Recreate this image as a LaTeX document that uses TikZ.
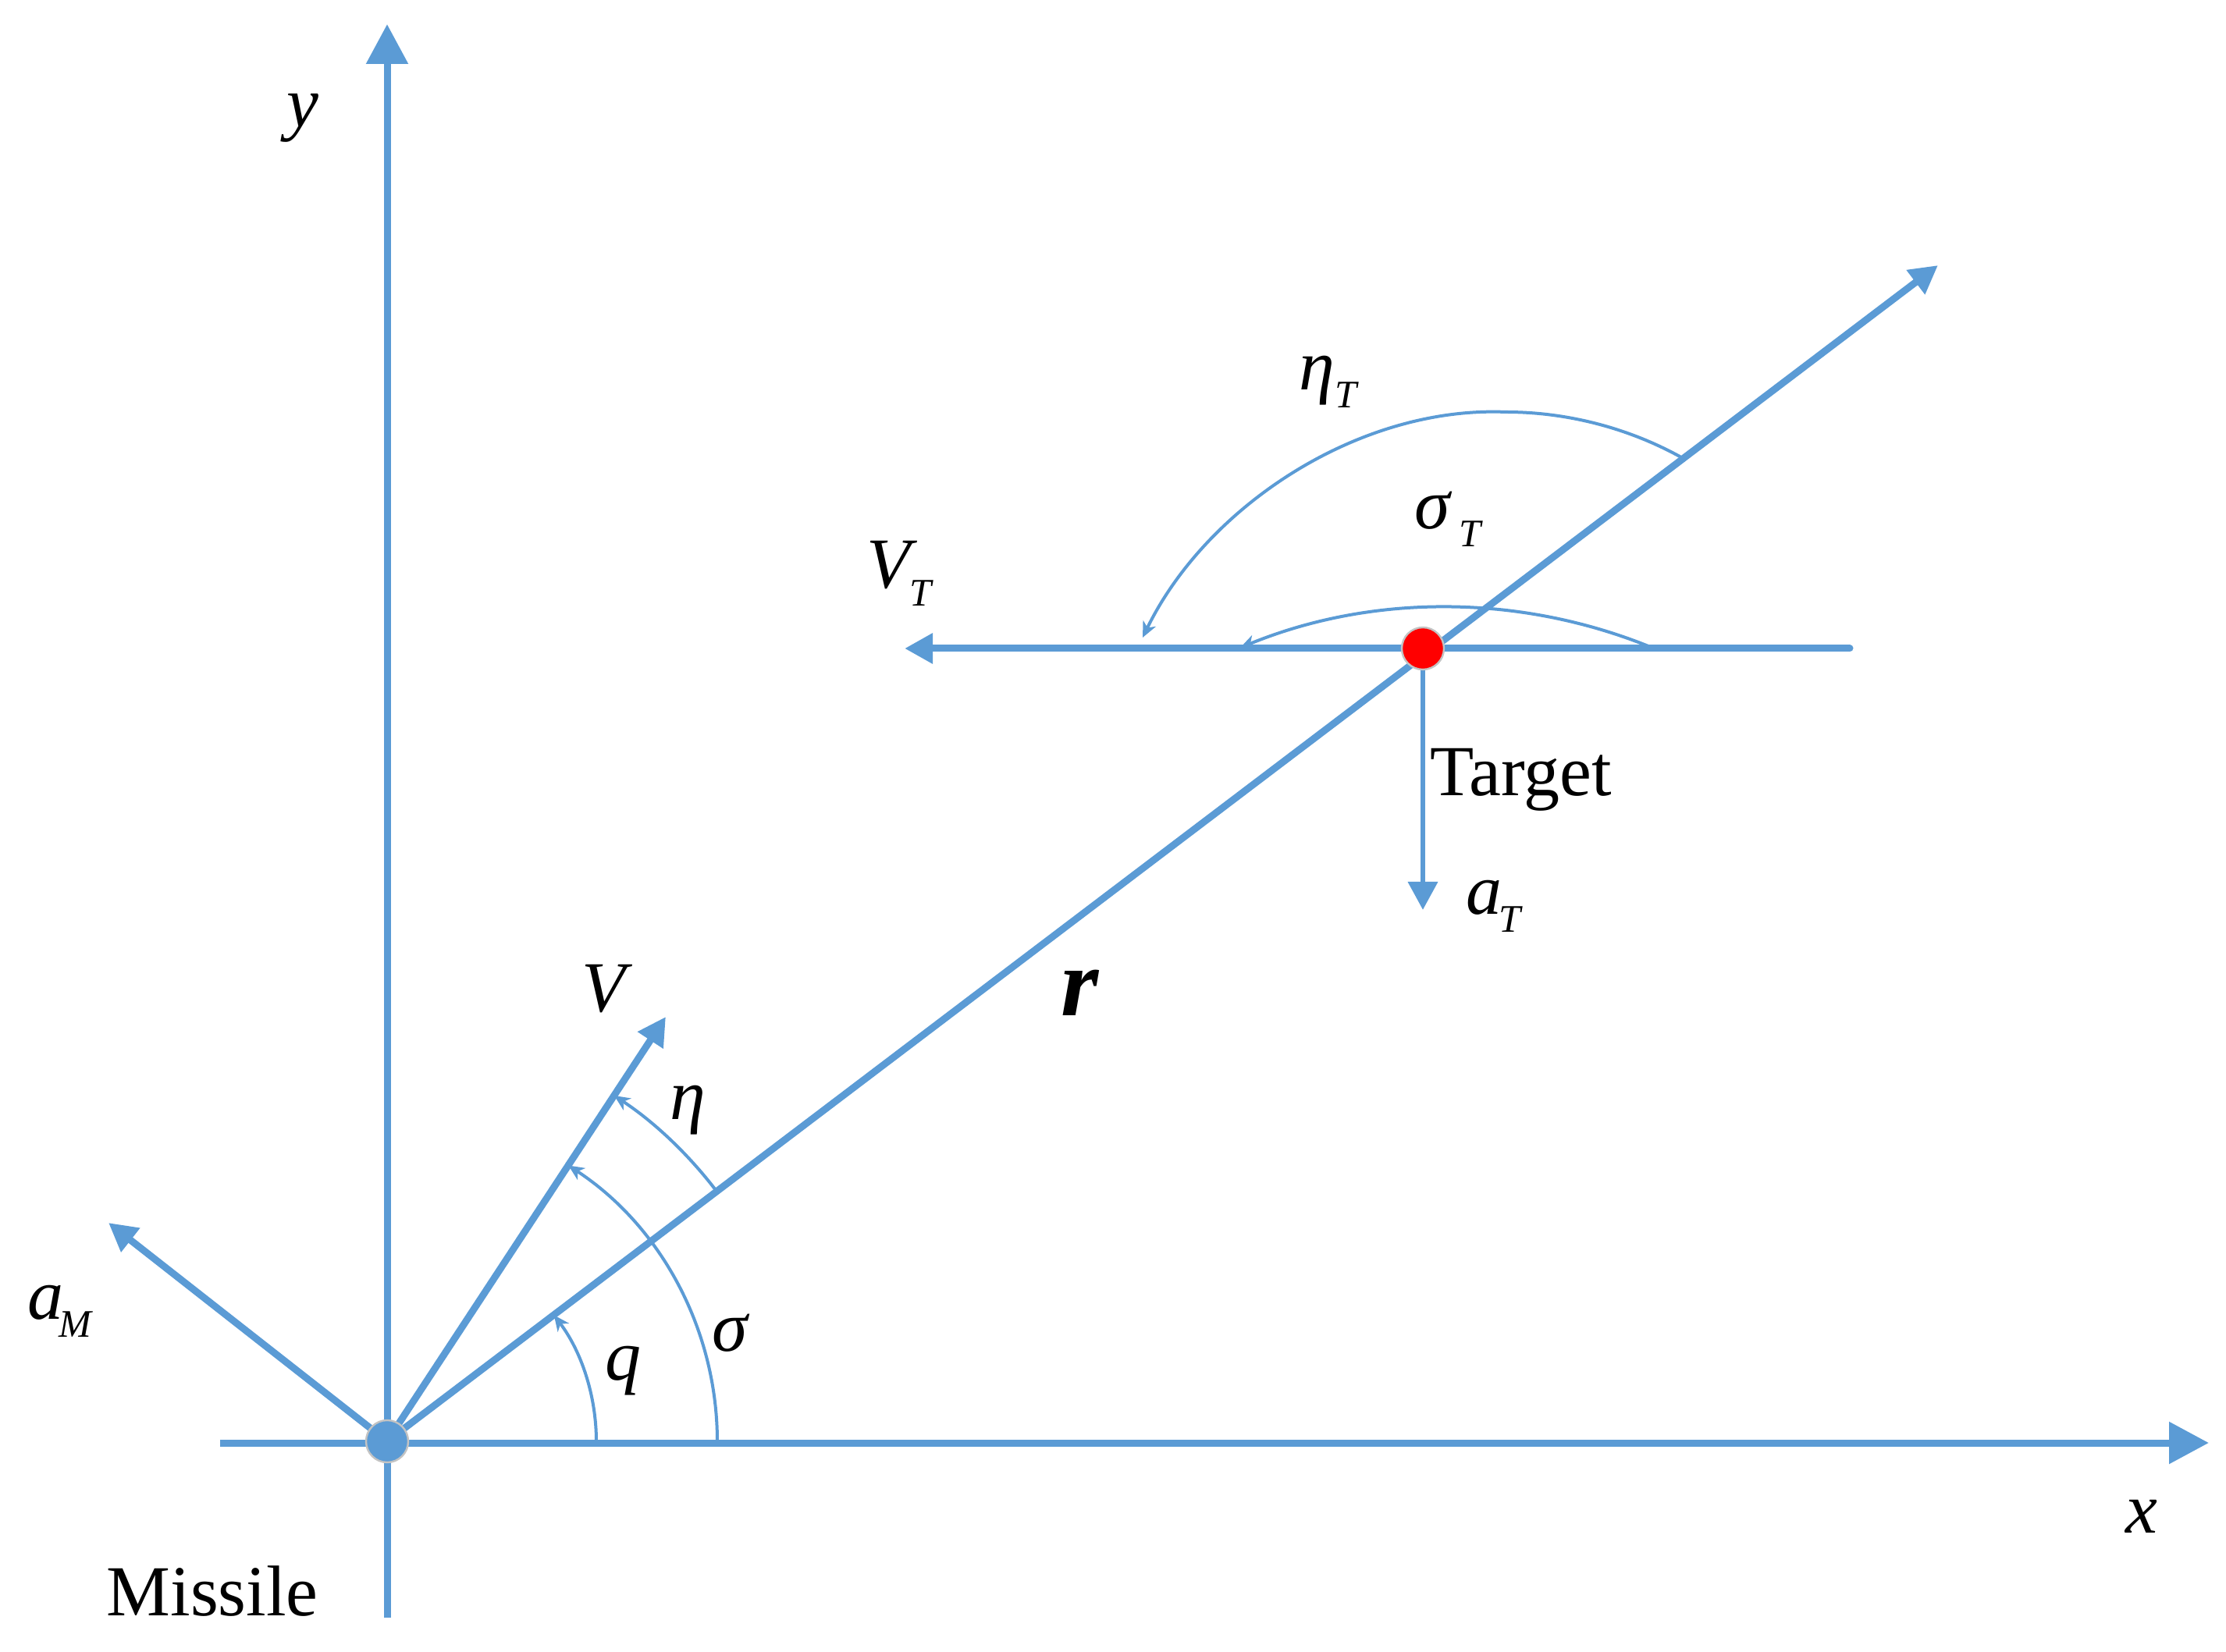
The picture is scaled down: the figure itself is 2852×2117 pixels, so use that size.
\documentclass[tikz,border=0pt]{standalone}
\usepackage{fontspec}
\setmainfont{Liberation Serif}
\usetikzlibrary{arrows.meta}
\definecolor{lineblue}{RGB}{91,155,213}
\definecolor{rimgray}{RGB}{195,195,195}
\pgfdeclarelayer{bg}
\pgfsetlayers{bg,main}
\newcommand\lsub[3][0pt]{#2\kern#1\raisebox{-5.75pt}{\fontsize{12.5}{14}\selectfont #3}}
\begin{document}
\begin{tikzpicture}[x=0.25pt,y=-0.25pt,
  axis/.style={draw=lineblue, line width=2.25pt, -{Triangle[length=12.75pt,width=13pt]}},
  vec/.style={draw=lineblue, line width=2.25pt, -{Triangle[length=9pt,width=9.25pt]}},
  anglearc/.style={draw=lineblue, line width=1pt, -{Stealth[length=5pt,width=4.5pt,inset=1.5pt]}},
  lbl/.style={anchor=base west, inner sep=0pt, font=\fontsize{23}{27}\selectfont\itshape},
  txt/.style={anchor=base west, inner sep=0pt, font=\fontsize{23}{27}\selectfont},
  dotnode/.style={circle, minimum size=13.5pt, inner sep=0pt, line width=0.6pt, draw=rimgray}]
\useasboundingbox (0,0) rectangle (2852,2117);
% points
\node[dotnode, fill=lineblue] (missile) at (496,1847) {};
\node[dotnode, fill=red] (target) at (1823,831) {};
\coordinate (ytop) at (496,31);
\coordinate (ybot) at (496,2073);
\coordinate (xleft) at (282,1849);
\coordinate (xright) at (2830,1849);
\coordinate (rtip) at (2483,340);
\coordinate (vtip) at (853,1303);
\coordinate (amtip) at (139,1567);
\coordinate (vtleft) at (1159,831);
\coordinate (vtright) at (2370,831);
\coordinate (attip) at (1823,1166);
\coordinate (sigmatc) at (1853,1474);
\coordinate (etatstart) at (2154,586);
\coordinate (etatpeak) at (1930,528);
\coordinate (etatend) at (1464,817);
\begin{pgfonlayer}{bg}
\draw[axis] (ybot) -- (ytop);
\draw[axis] (xleft) -- (xright);
\draw[vec] (missile.center) -- (rtip);
\draw[vec] (missile.center) -- (vtip);
\draw[vec] (missile.center) -- (amtip);
\draw[vec, line cap=round] (vtright) -- (vtleft);
\draw[vec, line width=1.7pt] (target.center) -- (attip);
% angle arcs
\draw[anglearc] (missile.center) ++(0:268) arc[start angle=0, end angle=-37.1, radius=268];
\draw[anglearc] (missile.center) ++(0:423) arc[start angle=0, end angle=-56.7, radius=423];
\draw[anglearc] (missile.center) ++(-37.1:530) arc[start angle=-37.1, end angle=-56.7, radius=530];
\draw[anglearc] (sigmatc) ++(-67.7:696) arc[start angle=-67.7, end angle=-112.3, radius=696];
\draw[anglearc] (etatstart) .. controls (2080,545) and (2000,528) .. (etatpeak)
  .. controls (1740,520) and (1545,650) .. (etatend);
\end{pgfonlayer}
% labels
\node[lbl] (ylab) at (367,163) {y};
\node[lbl] (xlab) at (2723,1964) {x};
\node[lbl] (vlab) at (745,1297) {V};
\node[lbl] (etalab) at (858,1435) {η};
\node[lbl] (sigmalab) at (912,1731) {σ};
\node[lbl] (qlab) at (775,1769) {q};
\node[lbl] (amlab) at (35,1690) {\lsub[-1.5pt]{a}{M}};
\node[txt] (missilelab) at (136,2070) {Missile};
\node[lbl, font=\fontsize{31}{35}\selectfont\bfseries\itshape] (rlab) at (1359,1302) {r};
\node[lbl] (vtlab) at (1110,754) {\lsub[-0.5pt]{V}{T}};
\node[lbl] (sigmatlab) at (1812,678) {\lsub[2.75pt]{σ}{T}};
\node[lbl] (etatlab) at (1664,500) {\lsub{η}{T}};
\node[txt] (targetlab) at (1832,1020) {Target};
\node[lbl] (atlab) at (1878,1172) {\lsub[-1pt]{a}{T}};
\end{tikzpicture}
\end{document}
